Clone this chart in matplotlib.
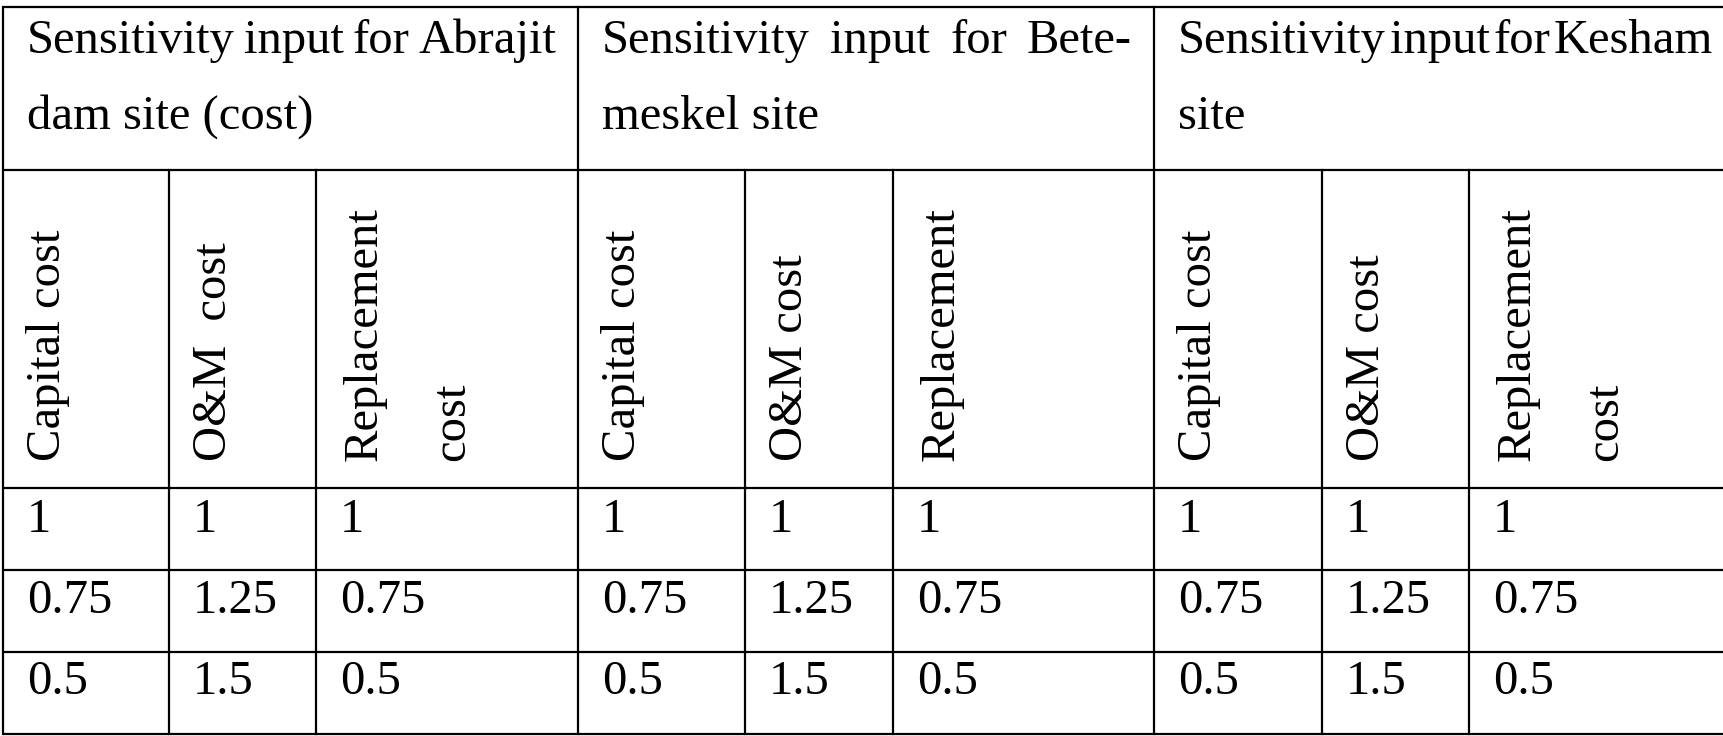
import matplotlib
matplotlib.use("Agg")
import matplotlib.pyplot as plt

sites = ["Sensitivity input for Abrajit dam site (cost)",
         "Sensitivity input for Bete-meskel site",
         "Sensitivity input for Kesham site"]
site_lines = [["Sensitivity input for Abrajit", "dam site (cost)"],
              ["Sensitivity input for Bete-", "meskel site"],
              ["Sensitivity input for Kesham", "site"]]
sub_headers = [["Capital cost", "O&M  cost", "Replacement\ncost"],
               ["Capital cost", "O&M cost", "Replacement"],
               ["Capital cost", "O&M cost", "Replacement\ncost"]]
capital_vals = ["1", "0.75", "0.5"]
om_vals = ["1", "1.25", "1.5"]
repl_vals = ["1", "0.75", "0.5"]

W, H = 1723, 736
fig = plt.figure(figsize=(W/100, H/100), dpi=100)
ax = fig.add_axes([0, 0, 1, 1])
ax.set_xlim(0, W); ax.set_ylim(H, 0); ax.axis("off")
FONT = "Liberation Serif"
FS = 35
lw = 1.6

xs = [3, 169, 316, 578, 745, 893, 1154, 1322, 1469, W]
ys = [7, 170, 488, 570, 652, 734]
for y in ys:
    ax.plot([3, W], [y, y], color="black", lw=lw, solid_capstyle="butt")
# vertical lines
for i, x in enumerate(xs[:-1]):
    if i in (0, 3, 6):
        ax.plot([x, x], [ys[0], ys[-1]], color="black", lw=lw)
    else:
        ax.plot([x, x], [ys[1], ys[-1]], color="black", lw=lw)

fig.canvas.draw()
r = fig.canvas.get_renderer()

def width_px(s):
    t = ax.text(0, 0, s, fontsize=FS, family=FONT)
    w = t.get_window_extent(r).width
    t.remove()
    return w

for g in range(3):
    left = xs[g*3] + 24
    right = xs[g*3+3] - 22 if g < 2 else W - 10
    l1, l2 = site_lines[g]
    words = l1.split(" ")
    ws = [width_px(w) for w in words]
    gap = (right - left - sum(ws)) / (len(words) - 1)
    x = left
    for w, wd in zip(words, ws):
        ax.text(x, 53, w, fontsize=FS, family=FONT, va="baseline", ha="left")
        x += wd + gap
    ax.text(left, 129, l2, fontsize=FS, family=FONT, va="baseline", ha="left")

    for c in range(3):
        cl = xs[g*3+c]
        hdr = sub_headers[g][c]
        if c < 2:
            ax.text(cl + 45, 461, hdr, fontsize=FS, family=FONT, rotation=90,
                    ha="center", va="bottom")
        else:
            parts = hdr.split("\n")
            ax.text(cl + 49, 461, parts[0], fontsize=FS, family=FONT, rotation=90,
                    ha="center", va="bottom")
            if len(parts) > 1:
                ax.text(cl + 136, 461, parts[1], fontsize=FS, family=FONT, rotation=90,
                        ha="center", va="bottom")
        vals = [capital_vals, om_vals, repl_vals][c]
        for v, yb in zip(vals, [532, 613, 694]):
            ax.text(cl + 24, yb, v, fontsize=FS, family=FONT, va="baseline", ha="left")

fig.savefig("out.png", dpi=100, facecolor="white")
